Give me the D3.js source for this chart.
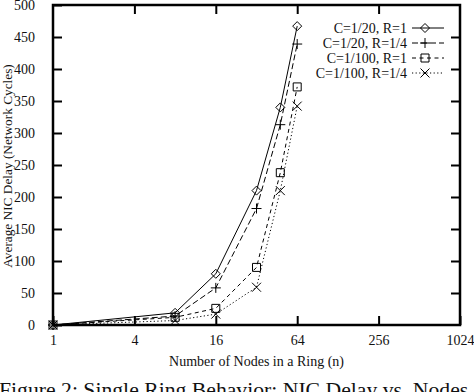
<!DOCTYPE html>
<html>
<head>
<meta charset="utf-8">
<script src="https://cdn.jsdelivr.net/npm/d3@7"></script>
<style>
html,body{margin:0;padding:0;background:#fff;overflow:hidden;}
svg{display:block;}
text{font-family:"Liberation Serif","DejaVu Serif",serif;fill:#111;}
</style>
</head>
<body>
<svg id="chart" width="474" height="392"></svg>
<script>
const nodes = [1, 8, 16, 32, 48, 64];
const seriesNames = ["C=1/20, R=1", "C=1/20, R=1/4", "C=1/100, R=1", "C=1/100, R=1/4"];
const c20r1 = [0, 19, 80, 210, 340, 467];
const c20r4 = [0, 14, 58, 182, 313, 439];
const c100r1 = [0, 12, 26, 90, 238, 372];
const c100r4 = [0, 7, 17, 59, 210, 342];
const xTicks = [1, 4, 16, 64, 256, 1024];
const yTicks = [0, 50, 100, 150, 200, 250, 300, 350, 400, 450, 500];
const xLabel = "Number of Nodes in a Ring (n)";
const yLabel = "Average NIC Delay (Network Cycles)";
const caption = "Figure 2: Single Ring Behavior: NIC Delay vs. Nodes";

const seriesValues = [c20r1, c20r4, c100r1, c100r4];
const markers = ["diamond", "plus", "square", "cross"];
const dashes = [null, "6,3", "4,3.5", "1.2,2.4"];

const svg = d3.select("#chart");
const L = 53, R = 460, T = 5, B = 325;
const x = d3.scaleLog().base(4).domain([1, 1024]).range([L, R]);
const y = d3.scaleLinear().domain([0, 500]).range([B, T]);

// axes
const tickLen = 9;
const fmt = d => String(d);
const gB = svg.append("g").attr("transform", `translate(0,${B})`)
  .call(d3.axisBottom(x).tickValues(xTicks).tickFormat(fmt).tickSizeInner(-tickLen).tickSizeOuter(0).tickPadding(10));
const gT = svg.append("g").attr("transform", `translate(0,${T})`)
  .call(d3.axisTop(x).tickValues(xTicks.slice(1, -1)).tickFormat("").tickSizeInner(-tickLen).tickSizeOuter(0));
const gLft = svg.append("g").attr("transform", `translate(${L},0)`)
  .call(d3.axisLeft(y).tickValues(yTicks).tickFormat(fmt).tickSizeInner(-tickLen).tickSizeOuter(0).tickPadding(18));
const gR = svg.append("g").attr("transform", `translate(${R},0)`)
  .call(d3.axisRight(y).tickValues(yTicks.slice(1, -1)).tickFormat("").tickSizeInner(-tickLen).tickSizeOuter(0));
[gB, gT, gLft, gR].forEach(g => {
  g.select(".domain").remove();
  g.selectAll(".tick line").attr("stroke", "#000").attr("stroke-width", 2);
  g.selectAll(".tick text").style("font-size", "14px").attr("fill", "#111")
    .style("font-family", '"Liberation Serif","DejaVu Serif",serif');
});
gB.selectAll(".tick text").attr("dy", "0.71em");

// frame
svg.append("rect").attr("x", L).attr("y", T).attr("width", R - L).attr("height", B - T)
  .attr("fill", "none").attr("stroke", "#000").attr("stroke-width", 2.5);

// labels
svg.append("text").attr("x", (L + R) / 2).attr("y", 366).attr("text-anchor", "middle")
  .style("font-size", "14px").text(xLabel);
svg.append("text").attr("transform", `translate(12,${(T + B) / 2 + 1}) rotate(-90)`)
  .attr("text-anchor", "middle").style("font-size", "13.3px").text(yLabel);
svg.append("text").attr("x", -1).attr("y", 397).style("font-size", "21.7px").text(caption);

function drawMarker(g, type, cx, cy) {
  const s = 4.5;
  let p;
  if (type === "diamond") p = `M${cx},${cy - s}L${cx + s},${cy}L${cx},${cy + s}L${cx - s},${cy}Z`;
  else if (type === "square") p = `M${cx - 4},${cy - 4}h8v8h-8Z`;
  else if (type === "plus") p = `M${cx - 5},${cy}h10M${cx},${cy - 5}v10`;
  else p = `M${cx - 4.5},${cy - 4.5}L${cx + 4.5},${cy + 4.5}M${cx - 4.5},${cy + 4.5}L${cx + 4.5},${cy - 4.5}`;
  g.append("path").attr("d", p).attr("fill", "none").attr("stroke", "#000").attr("stroke-width", 1);
}

const line = d3.line().x(d => x(d[0])).y(d => y(d[1]));
seriesValues.forEach((vals, i) => {
  const pts = nodes.map((n, j) => [n, vals[j]]);
  const g = svg.append("g");
  g.append("path").attr("d", line(pts)).attr("fill", "none").attr("stroke", "#000")
    .attr("stroke-width", 1).attr("stroke-dasharray", dashes[i]);
  pts.forEach(p => drawMarker(g, markers[i], x(p[0]), y(p[1])));
});

// legend
const legY = [28, 43, 58, 73];
seriesNames.forEach((name, i) => {
  const g = svg.append("g");
  g.append("text").attr("x", 407).attr("y", legY[i]).attr("dy", "0.35em").attr("text-anchor", "end")
    .style("font-size", "14px").text(name);
  g.append("line").attr("x1", 412).attr("x2", 444).attr("y1", legY[i]).attr("y2", legY[i])
    .attr("stroke", "#000").attr("stroke-width", 1).attr("stroke-dasharray", dashes[i]);
  drawMarker(g, markers[i], 425, legY[i]);
});
</script>
</body>
</html>
